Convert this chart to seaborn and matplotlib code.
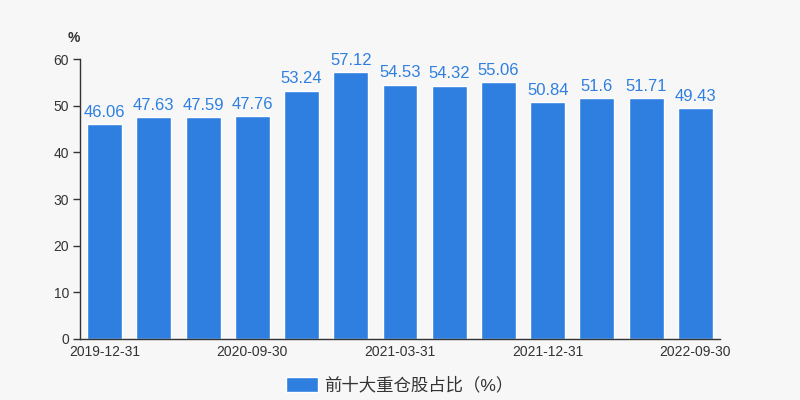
import matplotlib
matplotlib.use('Agg')

import pandas as pd
import matplotlib.pyplot as plt
import seaborn as sns

sns.set_theme(style="white")
plt.rcParams['font.family'] = ['Liberation Sans', 'Noto Sans CJK SC', 'DejaVu Sans']

dates = ['2019-12-31', '2020-03-31', '2020-06-30', '2020-09-30', '2020-12-31',
         '2021-01-31', '2021-03-31', '2021-06-30', '2021-09-30', '2021-12-31',
         '2022-03-31', '2022-06-30', '2022-09-30']
values = [46.06, 47.63, 47.59, 47.76, 53.24, 57.12, 54.53, 54.32, 55.06,
          50.84, 51.6, 51.71, 49.43]
series_name = '前十大重仓股占比（%）'
shown_labels = ['2019-12-31', '2020-09-30', '2021-03-31', '2021-12-31', '2022-09-30']

bg = '#f7f7f7'
blue = '#2e7fdf'
text_color = '#333333'

df = pd.DataFrame({'date': dates, 'value': values, 'series': series_name})

fig = plt.figure(figsize=(8, 4), dpi=100, facecolor=bg)
ax = fig.add_axes([0.1, 0.1525, 0.8, 0.7])
ax.set_facecolor(bg)

sns.barplot(data=df, x='date', y='value', hue='series', palette=[blue],
            width=0.71, saturation=1, ax=ax)

ax.bar_label(ax.containers[0], labels=[f'{v:g}' for v in values],
             padding=3, color=blue, fontsize=12)

ax.set_xlim(-0.5, len(dates) - 0.5)
ax.set_ylim(0, 60)
ax.set_yticks([0, 10, 20, 30, 40, 50, 60])
ax.set_xlabel('')
ax.set_ylabel('')

# labels under bar centers, tick marks on slot boundaries
pos = [dates.index(d) for d in shown_labels]
ax.set_xticks(pos)
ax.set_xticklabels(shown_labels)
ax.set_xticks([p - 0.5 for p in pos] + [len(dates) - 0.5], minor=True)
ax.tick_params(axis='x', which='major', length=0, pad=4, labelsize=10, labelcolor=text_color)
ax.tick_params(axis='x', which='minor', length=5, width=1, color=text_color, direction='out')
ax.tick_params(axis='y', length=5, width=1, color=text_color, direction='out',
               labelsize=10, labelcolor=text_color, left=True, pad=3)

for side in ['top', 'right']:
    ax.spines[side].set_visible(False)
for side in ['left', 'bottom']:
    ax.spines[side].set_color(text_color)
    ax.spines[side].set_linewidth(1)

ax.text(0.0, 1.05, '%', transform=ax.transAxes, ha='right', va='bottom',
        fontsize=10, fontweight='bold', color=text_color)

leg = ax.legend(loc='center', bbox_to_anchor=(0.5, -0.165), frameon=False,
                fontsize=12.5, handlelength=1.8, handleheight=0.9, handletextpad=0.4)
for t in leg.get_texts():
    t.set_color(text_color)

fig.savefig('out.png', dpi=100, facecolor=bg)
